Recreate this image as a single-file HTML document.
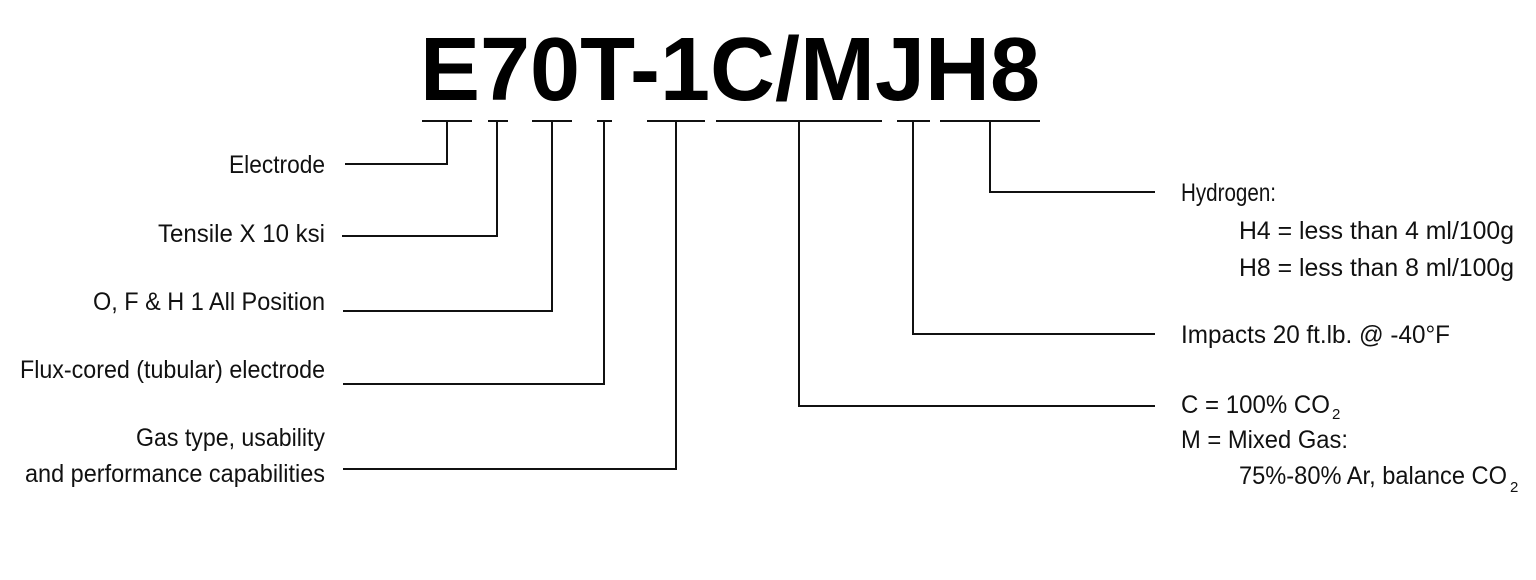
<!DOCTYPE html>
<html><head><meta charset="utf-8"><style>
html,body{margin:0;padding:0;background:#fff;}
svg{display:block;}
text{font-family:"Liberation Sans",sans-serif;fill:#111;}
.l{font-size:25px;}
</style></head><body>
<svg width="1536" height="580" viewBox="0 0 1536 580" xmlns="http://www.w3.org/2000/svg">
<text x="420" y="100" font-size="90" font-weight="bold" textLength="620" lengthAdjust="spacingAndGlyphs" style="fill:#000">E70T-1C/MJH8</text>
<g stroke="#111" stroke-width="2" fill="none">
<line x1="422" y1="121" x2="472" y2="121"/>
<line x1="488" y1="121" x2="508" y2="121"/>
<line x1="532" y1="121" x2="572" y2="121"/>
<line x1="597" y1="121" x2="612" y2="121"/>
<line x1="647" y1="121" x2="705" y2="121"/>
<line x1="716" y1="121" x2="882" y2="121"/>
<line x1="897" y1="121" x2="930" y2="121"/>
<line x1="940" y1="121" x2="1040" y2="121"/>
<polyline points="345,164 447,164 447,121"/>
<polyline points="342,236 497,236 497,121"/>
<polyline points="343,311 552,311 552,121"/>
<polyline points="343,384 604,384 604,121"/>
<polyline points="343,469 676,469 676,121"/>
<polyline points="1155,192 990,192 990,121"/>
<polyline points="1155,334 913,334 913,121"/>
<polyline points="1155,406 799,406 799,121"/>
</g>
<g class="l">
<text x="325" y="173" text-anchor="end" textLength="96" lengthAdjust="spacingAndGlyphs">Electrode</text>
<text x="325" y="242" text-anchor="end" textLength="167" lengthAdjust="spacingAndGlyphs">Tensile X 10 ksi</text>
<text x="325" y="310" text-anchor="end" textLength="232" lengthAdjust="spacingAndGlyphs">O, F &amp; H 1 All Position</text>
<text x="325" y="378" text-anchor="end" textLength="305" lengthAdjust="spacingAndGlyphs">Flux-cored (tubular) electrode</text>
<text x="325" y="446" text-anchor="end" textLength="189" lengthAdjust="spacingAndGlyphs">Gas type, usability</text>
<text x="325" y="482" text-anchor="end" textLength="300" lengthAdjust="spacingAndGlyphs">and performance capabilities</text>
<text x="1181" y="201" textLength="95" lengthAdjust="spacingAndGlyphs">Hydrogen:</text>
<text x="1239" y="239" textLength="275" lengthAdjust="spacingAndGlyphs">H4 = less than 4 ml/100g</text>
<text x="1239" y="276" textLength="275" lengthAdjust="spacingAndGlyphs">H8 = less than 8 ml/100g</text>
<text x="1181" y="343" textLength="269" lengthAdjust="spacingAndGlyphs">Impacts 20 ft.lb. @ -40°F</text>
<text x="1181" y="413" textLength="149" lengthAdjust="spacingAndGlyphs">C = 100% CO</text>
<text x="1332" y="419" font-size="15">2</text>
<text x="1181" y="448" textLength="167" lengthAdjust="spacingAndGlyphs">M = Mixed Gas:</text>
<text x="1239" y="484" textLength="268" lengthAdjust="spacingAndGlyphs">75%-80% Ar, balance CO</text>
<text x="1510" y="492" font-size="15">2</text>
</g>
</svg>
</body></html>
